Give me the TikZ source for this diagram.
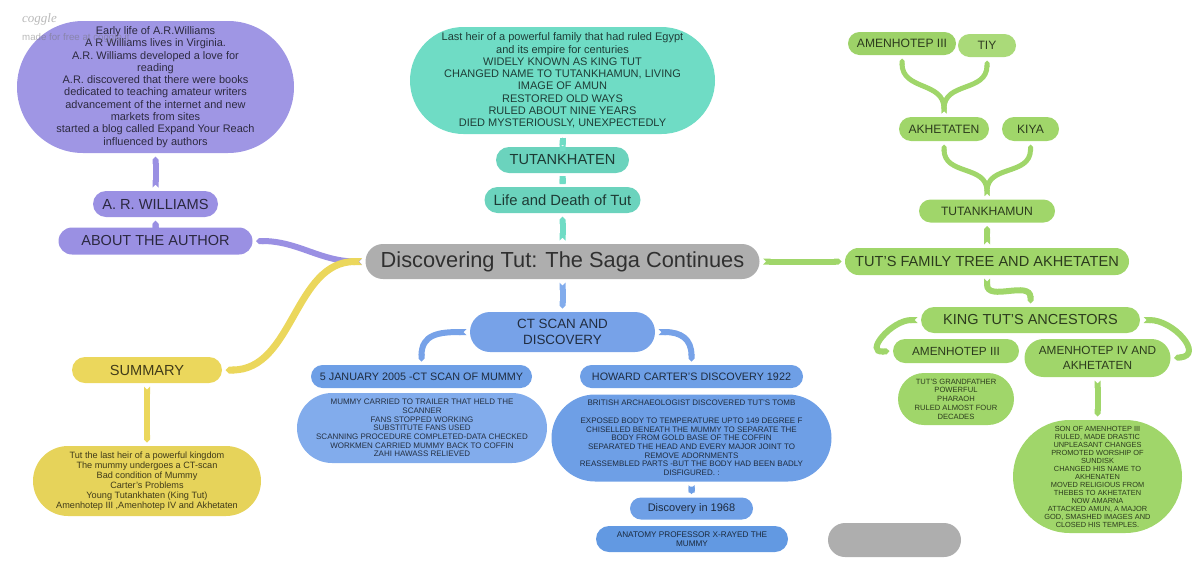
\documentclass[tikz,border=0pt]{standalone}
\usepackage{fontspec}
\setmainfont{Liberation Sans}
\newfontfamily\wmfont{Liberation Serif}
\usetikzlibrary{arrows.meta}
\definecolor{rootgray}{HTML}{AEAEAE}
\definecolor{purpleA}{HTML}{9A90E3}
\definecolor{tealA}{HTML}{6FDCC5}
\definecolor{greenA}{HTML}{A0D66A}
\definecolor{yellowA}{HTML}{EBD75C}
\definecolor{blueA}{HTML}{77A2E8}
\definecolor{blueB}{HTML}{6E9FE6}
\definecolor{blueC}{HTML}{82ACEC}
\definecolor{blueD}{HTML}{6299E2}
\begin{document}
\begin{tikzpicture}[
    x=1pt, y=-1pt,
    pill/.style 2 args={rectangle, minimum width=#1pt, minimum height=#2pt, rounded corners=#2pt/2,
        inner sep=0pt, outer sep=3.5pt, align=center, text=black, text opacity=0.72},
    fs/.style 2 args={font=\fontsize{#1}{#2}\selectfont},
    link/.style={line width=6pt, {Triangle Cap[reversed]}-{Triangle Cap}, #1}
]
\useasboundingbox (0,0) rectangle (1200,582);

% root
\node[pill={394}{35}, fill=rootgray, fs={21.8}{26}] (root) at (562.5,261.5) {Discovering Tut: The Saga Continues};
\node[pill={133}{34}, fill=rootgray] (blank) at (894.5,540) {};

% author branch
\node[pill={194}{27}, fill=purpleA, fs={14.5}{17}] (about) at (155.5,241) {ABOUT THE AUTHOR};
\node[pill={125}{26}, fill=purpleA, fs={14.6}{17}] (williams) at (155.5,204) {A. R. WILLIAMS};
\node[pill={277}{132}, fill=purpleA!95!white, fs={10.95}{12.3}] (williamsnote) at (155.5,87) {\rule{0pt}{2pt}Early life of A.R.Williams\\A R Williams lives in Virginia.\\A.R. Williams developed a love for\\reading\\A.R. discovered that there were books\\dedicated to teaching amateur writers\\advancement of the internet and new\\markets from sites\\started a blog called Expand Your Reach\\influenced by authors};

% life branch
\node[pill={156}{26}, fill=tealA!96!black, fs={14.8}{17}] (life) at (562.5,200) {Life and Death of Tut};
\node[pill={133}{26}, fill=tealA!96!black, fs={14.6}{17}] (tutankhaten) at (562.5,160) {TUTANKHATEN};
\node[pill={305}{107}, fill=tealA, fs={11}{12.3}] (tutnote) at (562.5,80.5) {Last heir of a powerful family that had ruled Egypt\\and its empire for centuries\\WIDELY KNOWN AS KING TUT\\CHANGED NAME TO TUTANKHAMUN, LIVING\\IMAGE OF AMUN\\RESTORED OLD WAYS\\RULED ABOUT NINE YEARS\\DIED MYSTERIOUSLY, UNEXPECTEDLY};

% family branch
\node[pill={284}{27}, fill=greenA, fs={14.6}{17}] (family) at (987,261.5) {TUT'S FAMILY TREE AND AKHETATEN};
\node[pill={136}{23}, fill=greenA, fs={12.1}{14}] (tutankhamun) at (987,211) {TUTANKHAMUN};
\node[pill={90}{24}, fill=greenA, fs={12.1}{14}] (akhetaten) at (944,129) {AKHETATEN};
\node[pill={57}{24}, fill=greenA, fs={12.1}{14}] (kiya) at (1030.5,129) {KIYA};
\node[pill={108}{23}, fill=greenA!98!black, fs={12.1}{14}] (amenfather) at (902,43.5) {AMENHOTEP III};
\node[pill={58}{23}, fill=greenA!90!white, fs={12.1}{14}] (tiy) at (987,45.5) {TIY};
\node[pill={219}{26}, fill=greenA, fs={14.5}{17}] (ancestors) at (1030.5,320) {KING TUT'S ANCESTORS};
\node[pill={126}{24}, fill=greenA, fs={11.8}{14}] (ameniii) at (956,351) {AMENHOTEP III};
\node[pill={146}{38}, fill=greenA, fs={11.8}{14.6}] (ameniv) at (1097.5,358) {AMENHOTEP IV AND\\AKHETATEN};
\node[pill={116}{52}, fill=greenA, fs={7.6}{8.7}] (grandnote) at (956,399) {TUT'S GRANDFATHER\\POWERFUL\\PHARAOH\\RULED ALMOST FOUR\\DECADES};
\node[pill={169}{113}, fill=greenA, fs={7.4}{8}] (sonnote) at (1097.5,476.5) {SON OF AMENHOTEP III\\RULED, MADE DRASTIC\\UNPLEASANT CHANGES\\PROMOTED WORSHIP OF\\SUNDISK\\CHANGED HIS NAME TO\\AKHENATEN\\MOVED RELIGIOUS FROM\\THEBES TO AKHETATEN\\NOW AMARNA\\ATTACKED AMUN, A MAJOR\\GOD, SMASHED IMAGES AND\\CLOSED HIS TEMPLES.};

% ct scan branch
\node[pill={185}{40}, fill=blueA, fs={13.4}{16}] (ctscan) at (562.5,332) {CT SCAN AND\\DISCOVERY};
\node[pill={221}{23}, fill=blueB, fs={10.8}{13}] (january) at (421.5,376.5) {5 JANUARY 2005 -CT SCAN OF MUMMY};
\node[pill={223}{23}, fill=blueB, fs={10.8}{13}] (carter) at (691.5,376.5) {HOWARD CARTER'S DISCOVERY 1922};
\node[pill={250}{70}, fill=blueC, fs={8}{8.7}] (mummynote) at (422,428) {MUMMY CARRIED TO TRAILER THAT HELD THE\\SCANNER\\FANS STOPPED WORKING\\SUBSTITUTE FANS USED\\SCANNING PROCEDURE COMPLETED-DATA CHECKED\\WORKMEN CARRIED MUMMY BACK TO COFFIN\\ZAHI HAWASS RELIEVED};
\node[pill={280}{87}, fill=blueB, fs={8}{8.7}] (britishnote) at (691.5,438) {BRITISH ARCHAEOLOGIST DISCOVERED TUT'S TOMB\\[8.7pt]EXPOSED BODY TO TEMPERATURE UPTO 149 DEGREE F\\CHISELLED BENEATH THE MUMMY TO SEPARATE THE\\BODY FROM GOLD BASE OF THE COFFIN\\SEPARATED THE HEAD AND EVERY MAJOR JOINT TO\\REMOVE ADORNMENTS\\REASSEMBLED PARTS -BUT THE BODY HAD BEEN BADLY\\DISFIGURED. :};
\node[pill={123}{22}, fill=blueB, fs={11}{13}] (discovery) at (691.5,508.5) {Discovery in 1968};
\node[pill={192}{26}, fill=blueD, fs={8.2}{8.7}] (anatomy) at (692,539) {ANATOMY PROFESSOR X-RAYED THE\\MUMMY};

% summary branch
\node[pill={150}{26}, fill=yellowA, fs={14.6}{17}] (summary) at (147,370) {SUMMARY};
\node[pill={228}{70}, fill=yellowA!98!black, fs={9.15}{10}] (summarynote) at (147,481) {Tut the last heir of a powerful kingdom\\The mummy undergoes a CT-scan\\Bad condition of Mummy\\Carter's Problems\\Young Tutankhaten (King Tut)\\Amenhotep III ,Amenhotep IV and Akhetaten};

% watermark
\node[inner sep=0pt, anchor=west, text=black!55, text opacity=0.5, font=\wmfont\itshape\fontsize{13}{15}\selectfont] (wmlogo) at (22,19) {coggle};
\node[inner sep=0pt, anchor=west, text=black!55, text opacity=0.5, font=\fontsize{9.7}{12}\selectfont] (wmtext) at (22,38) {made for free at coggle.it};

% straight connectors
\foreach \a/\b in {about.north/williams.south, williams.north/williamsnote.south}
    \draw[link=purpleA] (\a) -- (\b);
\foreach \a/\b in {root.north/life.south, life.north/tutankhaten.south, tutankhaten.north/tutnote.south}
    \draw[link=tealA] (\a) -- (\b);
\foreach \a/\b in {root.east/family.west, family.north/tutankhamun.south, ameniv.south/sonnote.north}
    \draw[link=greenA] (\a) -- (\b);
\foreach \a/\b in {britishnote.south/discovery.north}
    \draw[link=blueB] (\a) -- (\b);
\draw[link=blueC] (root.south) -- (ctscan.north);
\draw[link=yellowA] (summary.south) -- (summarynote.north);

% curved connectors
\draw[link=purpleA] (root.west) to[out=180, in=0] (about.east);
\draw[link=yellowA, line width=7pt] (root.west) to[out=180, in=0] (summary.east);
\foreach \a/\b in {tutankhamun.north/akhetaten.south, tutankhamun.north/kiya.south, akhetaten.north/amenfather.south, akhetaten.north/tiy.south}
    \draw[link=greenA, line width=5pt] (\a) to[out=90, in=-90, looseness=1.2] (\b);
\draw[link=greenA] (family.south) to[out=-90, in=90, looseness=1.2] (ancestors.north);
\draw[link=greenA] (ancestors.west) to[out=180, in=185, looseness=1.6] (ameniii.west);
\draw[link=greenA] (ancestors.east) to[out=0, in=5, looseness=1.6] (ameniv.east);
\draw[link=blueA] (ctscan.west) to[out=180, in=90, looseness=1.3] (january.north);
\draw[link=blueA] (ctscan.east) to[out=0, in=90, looseness=1.3] (carter.north);

\end{tikzpicture}
\end{document}
